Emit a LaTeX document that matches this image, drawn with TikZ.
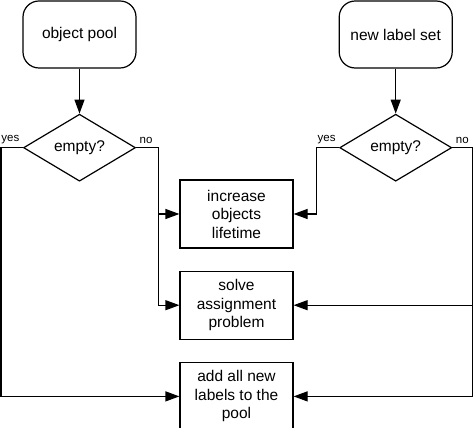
\documentclass[tikz,border=0pt]{standalone}
\usepackage{fontspec}
\setmainfont{Liberation Sans}
\usetikzlibrary{shapes.geometric, positioning, arrows.meta}

\tikzstyle{startblock}  = [rectangle, rounded corners=16pt, minimum width=113pt, minimum height=67pt, draw=black, line width=1.2pt, font=\fontsize{15.5}{18.5}\selectfont]
\tikzstyle{decision}    = [diamond, aspect=1.67, minimum width=112pt, minimum height=67pt, inner sep=0pt, draw=black, line width=1.2pt, font=\fontsize{15.5}{18.5}\selectfont]
\tikzstyle{actionblock} = [rectangle, minimum width=113pt, minimum height=68pt, align=center, draw=black, line width=1.2pt, font=\fontsize{15.5}{18.5}\selectfont]
\tikzstyle{branch}      = [font=\fontsize{11.5}{13}\selectfont, inner sep=3pt]

\begin{document}
\begin{tikzpicture}[x=1pt, y=1pt, line width=1.2pt, >={Triangle[length=14pt,width=10pt]}]
        \useasboundingbox (0,0) rectangle (474,428);
        \node (pool)     [startblock] at (79.5,393.5)           {object pool};
        \node (labelset) [startblock, right=202pt of pool]     {new label set};
        \node (empty1)   [decision, below=45pt of pool]        {empty?};
        \node (empty2)   [decision, below=45pt of labelset]    {empty?};
        \node (increase) [actionblock] at (236.5,214)          {increase\\objects\\lifetime};
        \node (solve)    [actionblock, below=22pt of increase] {solve\\assignment\\problem};
        \node (add)      [actionblock, below=22pt of solve]    {add all new\\labels to the\\pool};
        \draw[->] (pool)     -- (empty1);
        \draw[->] (labelset) -- (empty2);
        \draw[->] (empty1.east) node[branch, above right] {no} -- ++(22pt,0) |- (increase.west);
        \draw[->] (empty1.east) -- ++(22pt,0) |- (solve.west);
        \draw[->] (empty1.west) node[branch, above left] {yes} -- ++(-22pt,0) |- (add.west);
        \draw[->] (empty2.west) node[branch, above left] {yes} -- ++(-23pt,0) |- (increase.east);
        \draw[->] (empty2.east) node[branch, above right] {no} -- ++(20.5pt,0) |- (solve.east);
        \draw[->] (empty2.east) -- ++(20.5pt,0) |- (add.east);
\end{tikzpicture}
\end{document}
